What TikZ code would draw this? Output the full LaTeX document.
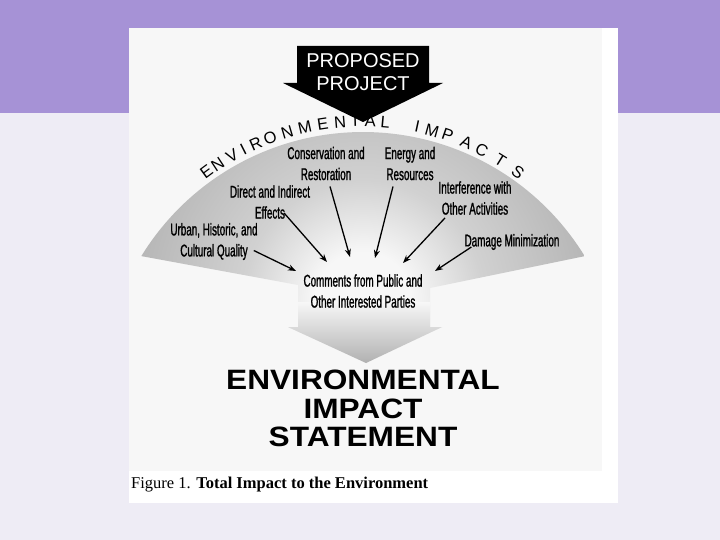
\documentclass[tikz,border=0pt]{standalone}
\usepackage{fontspec}
\setmainfont{Liberation Serif}
\newfontfamily\helv{Liberation Sans}
\newfontfamily\helvwide[FakeStretch=1.13]{Liberation Sans}
\newfontfamily\cond[FakeStretch=0.58,FakeBold=1.2]{Liberation Sans}
\usetikzlibrary{arrows.meta}
\definecolor{bandpurple}{RGB}{166,146,214}
\definecolor{bglav}{RGB}{238,236,245}
\definecolor{figbg}{RGB}{247,247,247}
\pgfdeclareradialshading{fanshade}{\pgfpoint{0bp}{0bp}}{color(0bp)=(figbg); color(4bp)=(figbg); color(10bp)=(black!18); color(22bp)=(black!32); color(40bp)=(black!40); color(50bp)=(black!40)}
\begin{document}
\begin{tikzpicture}[x=1pt,y=-1pt,
  lbl/.style={font=\cond\fontsize{17}{21}\selectfont, align=center, inner sep=0pt},
  arr/.style={-{Stealth[length=8pt,width=6pt]}, line width=1.3pt},
  arcletter/.style={font=\helv\fontsize{16.5}{16.5}\selectfont, inner sep=0pt}]
\useasboundingbox (0,0) rectangle (720,540);
% background
\fill[bglav] (0,0) rectangle (720,540);
\fill[bandpurple] (0,0) rectangle (720,113);
\fill[white] (129,28) rectangle (618,503);
\fill[figbg] (129,28) rectangle (602,471);
% fan with down arrow
\begin{scope}
\clip (141.3,256.1) -- plot[domain=-58.5:58.5,samples=80] ({363+260*sin(\x)},{392-260*cos(\x)})
  -- (430,288) -- (430,327) -- (442,327) -- (366,363) -- (288,327) -- (298,327) -- (298,285) -- cycle;
\shade[shading=fanshade] (363,300) circle (300);
\clip (280,302) rectangle (450,370);
\shade[top color=figbg, bottom color=black!32] (280,302) rectangle (450,366);
\end{scope}
% black arrow
\fill[black] (297,46) -- (429,46) -- (429,83) -- (443,83) -- (363,122) -- (283,83) -- (297,83) -- cycle;
\node[font=\helv\fontsize{20}{20}\selectfont, text=white, anchor=base, inner sep=0pt] (prop) at (363,68) {PROPOSED};
\node[font=\helv\fontsize{20}{20}\selectfont, text=white, anchor=base, inner sep=0pt] (proj) at (363,91) {PROJECT};
% curved title
\foreach \ch/\ang [count=\i] in {E/-36.4, N/-33.4, V/-29.7, I/-26.9, R/-23.9, O/-20.5, N/-16.6, M/-12.6, E/-8.6, N/-4.8, T/-1.5, A/1.8, L/5.1, I/12.2, M/15.5, P/19.1, A/23.5, C/27.2, T/31.9, S/36.5}
  \node[arcletter, rotate=-\ang] (arc\i) at ({362+262*sin(\ang)},{383-262*cos(\ang)}) {\ch};
% labels
\node[lbl] (cons) at (326,163.5) {Conservation and\\Restoration};
\node[lbl] (ener) at (410,163.5) {Energy and\\Resources};
\node[lbl] (dir) at (270,202) {Direct and Indirect\\Effects};
\node[lbl] (intf) at (475,198) {Interference with\\Other Activities};
\node[lbl] (urb) at (214,241.5) {Urban, Historic, and\\Cultural Quality};
\node[lbl] (dmg) at (512,242) {Damage Minimization};
\node[lbl] (comm) at (363,291) {Comments from Public and\\Other Interested Parties};
% arrow ends
\coordinate (t1) at (296,271);
\coordinate (t2) at (327,262);
\coordinate (t3) at (350,257);
\coordinate (t4) at (375,258);
\coordinate (t5) at (403,263);
\coordinate (t6) at (435,271);
\draw[arr] ([shift={(-4,9)}]urb.east) -- (t1);
\draw[arr] ([shift={(14,-6)}]dir.south) -- (t2);
\draw[arr] ([shift={(4,6)}]cons.south) -- (t3);
\draw[arr] ([shift={(-17,6)}]ener.south) -- (t4);
\draw[arr] ([shift={(-30,3)}]intf.south) -- (t5);
\draw[arr] ([shift={(7,5)}]dmg.west) -- (t6);
% statement
\node[font=\helvwide\bfseries\fontsize{28}{28.5}\selectfont, align=center, inner sep=0pt] (eis) at (363,408.5) {ENVIRONMENTAL\\IMPACT\\STATEMENT};
% caption
\node[anchor=base west, font=\fontsize{16.5}{16.5}\selectfont, inner sep=0pt] (cap) at (131,488) {Figure 1. \textbf{Total Impact to the Environment}};
\end{tikzpicture}
\end{document}
